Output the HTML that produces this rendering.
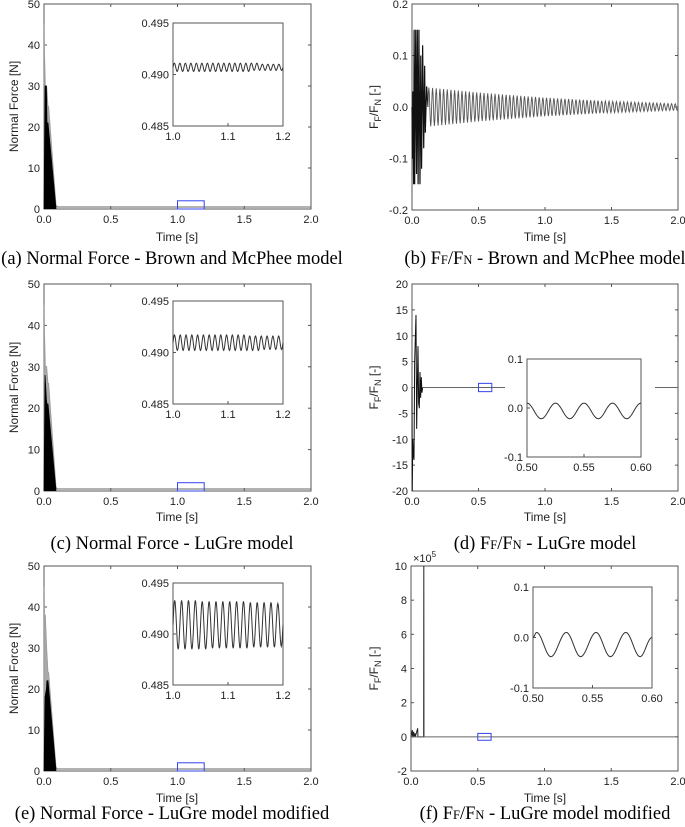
<!DOCTYPE html>
<html><head><meta charset="utf-8"><style>
html,body{margin:0;padding:0;background:#fff;}
svg{display:block;}
text{font-family:"Liberation Sans",sans-serif;fill:#222;}
.cap{font-family:"Liberation Serif",serif;font-size:18.5px;fill:#000;}
</style></head><body>
<svg id="fig" width="685" height="827" viewBox="0 0 685 827" xmlns="http://www.w3.org/2000/svg"></svg>
<script>
// ---------- data ----------
const nfOuterT = [0, 0.002, 0.004, 0.01, 0.02, 0.03, 0.035, 0.09, 0.1];
const nfOuterV_a = [0, 45, 38, 30, 30, 25, 25, 1, 0.5];
const nfInnerT = [0, 0.008, 0.018, 0.022, 0.03, 0.09];
const nfInnerV_a = [0, 30, 30, 21, 21, 0];
const nfOuterV_c = [0, 45, 38, 30, 30, 26, 26, 1, 0.5];
const nfInnerV_c = [0, 28, 22, 21, 21, 0];
const nfOuterV_e = [0, 45, 38, 38, 30, 24, 24, 1, 0.5];
const nfInnerV_e = [0, 18, 20, 22, 22, 0];
const nfSteady = 0.49;
const insetA_max = [0.4911,0.4911,0.4911,0.4911,0.4911,0.4911,0.4911,0.4911,0.4911,0.4911,0.4911,0.4911,0.4911,0.4911,0.4911,0.4911,0.4910,0.4910,0.4910,0.4910];
const insetA_min = [0.4903,0.4903,0.4903,0.4903,0.4903,0.4903,0.4903,0.4903,0.4903,0.4903,0.4903,0.4903,0.4903,0.4903,0.4904,0.4904,0.4904,0.4904,0.4904,0.4904];
const insetC_max = [0.4917,0.4917,0.4917,0.4917,0.4917,0.4917,0.4917,0.4917,0.4917,0.4917,0.4917,0.4917,0.4917,0.4916,0.4916,0.4916,0.4916,0.4916,0.4916];
const insetC_min = [0.4902,0.4902,0.4902,0.4902,0.4902,0.4902,0.4902,0.4902,0.4902,0.4902,0.4902,0.4902,0.4902,0.4902,0.4902,0.4903,0.4903,0.4903,0.4903];
const insetE_max = [0.4933,0.4933,0.4933,0.4933,0.4932,0.4932,0.4932,0.4932,0.4932,0.4932,0.4932,0.4931,0.4931,0.4931,0.4931,0.4930];
const insetE_min = [0.4885,0.4885,0.4885,0.4885,0.4885,0.4886,0.4886,0.4886,0.4886,0.4886,0.4886,0.4887,0.4887,0.4887,0.4887,0.4888];
const bEarlyT = [0,0.004,0.006,0.012,0.016,0.02,0.028,0.034,0.04,0.046,0.052,0.06,0.066,0.072,0.08,0.088,0.095,0.1,0.11,0.12];
const bEarlyV = [0,-0.1,0.03,-0.15,0.15,-0.15,0.15,-0.13,0.15,-0.15,0.15,-0.15,0.1,-0.12,0.12,-0.08,0.08,-0.05,0.04,0];
const bEnvT = [0.12,0.5,1.0,1.5,2.0];
const bEnvA = [0.038,0.028,0.018,0.011,0.006];
const bCycles = 68;
const dSpikeT = [0,0.002,0.006,0.01,0.015,0.02,0.03,0.035,0.045,0.05,0.055,0.06,0.065,0.07,0.075,0.08];
const dSpikeV = [0,-20,-10,-13,-14,5,14,-8,8,-3,-4,3,-2,2,-1,0];
const dInsetT = [0.50,0.5125,0.525,0.5375,0.55,0.5625,0.575,0.5875,0.60];
const dInsetV = [0.010,-0.022,0.010,-0.022,0.010,-0.022,0.010,-0.022,0.010];
const fSpikeT = [0,0.01,0.012,0.02,0.022,0.03,0.032,0.05,0.052,0.095,0.096,0.097];
const fSpikeV = [0,0.4,0,0.3,0,0.2,0,0.5,0,0,10.5,0];
const fInsetT = [0.50,0.503,0.515,0.528,0.540,0.553,0.565,0.578,0.590,0.60];
const fInsetV = [0.0,0.010,-0.038,0.010,-0.038,0.010,-0.038,0.010,-0.038,0.0];

// ---------- helpers ----------
const NS='http://www.w3.org/2000/svg';
const svg=document.getElementById('fig');
function el(tag,attrs,parent){const e=document.createElementNS(NS,tag);for(const k in attrs)e.setAttribute(k,attrs[k]);(parent||svg).appendChild(e);return e;}
function txt(s,x,y,size,anchor,parent){const t=el('text',{x:x,y:y,'font-size':size,'text-anchor':anchor||'middle'},parent);t.textContent=s;return t;}
function scale(d0,d1,p0,p1){return v=>p0+(v-d0)/(d1-d0)*(p1-p0);}
function frame(g,X0,X1,Y0,Y1,xt,yt,sx,sy,xlab,ylab,fs,tl,right){
  const r=el('rect',{x:X0,y:Y0,width:X1-X0,height:Y1-Y0,fill:'none',stroke:'#555','stroke-width':1},g);
  
  
  xt.forEach((v,i)=>{const x=sx(v);
    el('line',{x1:x,y1:Y1,x2:x,y2:Y1-tl,stroke:'#555'},g);
    if(right)el('line',{x1:x,y1:Y0,x2:x,y2:Y0+tl,stroke:'#555'},g);
    const t=txt(xlab[i],x,Y1+14,fs,'middle',g);
    
    });
  yt.forEach((v,i)=>{const y=sy(v);
    el('line',{x1:X0,y1:y,x2:X0+tl,y2:y,stroke:'#555'},g);
    if(right)el('line',{x1:X1,y1:y,x2:X1-tl,y2:y,stroke:'#555'},g);
    const t=txt(ylab[i],X0-4,y+4,fs,'end',g);
    
    });
}
function poly(g,T,V,sx,sy,attrs){return el('polyline',Object.assign({points:T.map((t,i)=>sx(t)+','+sy(V[i])).join(' '),fill:'none'},attrs),g);}
function oscPts(t0,t1,maxs,mins,sx,sy,phase){
  const n=maxs.length,pts=[],N=n*16;
  for(let k=0;k<=N;k++){const u=k/N,c=Math.min(n-1,Math.floor(u*n));
    const ph=u*n*2*Math.PI+(phase||0);const mid=(maxs[c]+mins[c])/2,amp=(maxs[c]-mins[c])/2;
    pts.push(sx(t0+u*(t1-t0))+','+sy(mid+amp*Math.cos(ph)));}
  return pts.join(' ');
}
function smoothPts(T,V,sx,sy){
  const pts=[];for(let i=0;i<T.length-1;i++){for(let k=0;k<12;k++){const u=k/12,w=(1-Math.cos(Math.PI*u))/2;
    pts.push(sx(T[i]+u*(T[i+1]-T[i]))+','+sy(V[i]+w*(V[i+1]-V[i])));}}
  pts.push(sx(T[T.length-1])+','+sy(V[V.length-1]));return pts.join(' ');
}
function yLabel(g,x,y,parts){const t=el('text',{transform:`translate(${x},${y}) rotate(-90)`,'font-size':12,'text-anchor':'middle'},g);
  parts.forEach(p=>{const s=el('tspan',p.sub?{'font-size':9,dy:3}:{dy:p.up?-3:0},t);s.textContent=p.s;});
  return t;}
function caption(g,x,y,parts){const t=el('text',{x:x,y:y,'text-anchor':'middle',class:'cap'},g);
  parts.forEach(p=>{const s=el('tspan',p.sub?{'font-size':12.5}:{},t);s.textContent=p.s;});
  return t;}
const xTicks=[0,0.5,1,1.5,2],xLab=['0.0','0.5','1.0','1.5','2.0'];

function nfPanel(name,Y0,Y1,outerV,innerV,imax,imin,IY0,IY1,capText,capY,tY){
  const g=el('g',{});
  const X0=44,X1=311,sx=scale(0,2,X0,X1),sy=scale(0,50,Y1,Y0);
  frame(g,X0,X1,Y0,Y1,xTicks,[0,10,20,30,40,50],sx,sy,xLab,['0','10','20','30','40','50'],11,3,true);
  const o=poly(g,nfOuterT,outerV,sx,sy,{fill:'#aaa',stroke:'#999','stroke-width':0.8});
  
  const inn=poly(g,nfInnerT,innerV,sx,sy,{fill:'#000',stroke:'#000','stroke-width':0.8});
  
  const sl=el('line',{x1:sx(0.09),y1:sy(nfSteady),x2:sx(2),y2:sy(nfSteady),stroke:'#666','stroke-width':1},g);
  
  const br=el('rect',{x:sx(1),y:sy(2),width:sx(1.2)-sx(1),height:sy(0)-sy(2),fill:'none',stroke:'#3344ee','stroke-width':1},g);
  
  const ix=scale(1,1.2,173,283),iy=scale(0.485,0.495,IY1,IY0);
  const ig=el('g',{},g);
  frame(ig,173,283,IY0,IY1,[1,1.1,1.2],[0.485,0.49,0.495],ix,iy,['1.0','1.1','1.2'],['0.485','0.490','0.495'],11,3,false);
  const ip=el('polyline',{points:oscPts(1,1.2,imax,imin,ix,iy,-Math.PI/2),fill:'none',stroke:'#333','stroke-width':1},ig);
  
  yLabel(g,18,(Y0+Y1)/2,[{s:'Normal Force [N]'}]);
  const xl=txt('Time [s]',177,tY,12,'middle',g);
  caption(g,172,capY,[{s:capText}]);
}
nfPanel('panel-a',4,209,nfOuterV_a,nfInnerV_a,insetA_max,insetA_min,23,126,'(a) Normal Force - Brown and McPhee model',264,241);
nfPanel('panel-c',284,491,nfOuterV_c,nfInnerV_c,insetC_max,insetC_min,301,404,'(c) Normal Force - LuGre model',549,521);
nfPanel('panel-e',566,771,nfOuterV_e,nfInnerV_e,insetE_max,insetE_min,583,685,'(e) Normal Force - LuGre model modified',819,802);

const ffLab=[{s:'F'},{s:'F',sub:1},{s:'/F',up:1},{s:'N',sub:1},{s:' [-]',up:1}];
(function(){
  const g=el('g',{});
  const X0=412,X1=678,Y0=4,Y1=210,sx=scale(0,2,X0,X1),sy=scale(-0.2,0.2,Y1,Y0);
  frame(g,X0,X1,Y0,Y1,xTicks,[-0.2,-0.1,0,0.1,0.2],sx,sy,xLab,['-0.2','-0.1','0.0','0.1','0.2'],11,3,true);
  const e=poly(g,bEarlyT,bEarlyV,sx,sy,{stroke:'#111','stroke-width':1.2});
  
  const pts=[],t0=bEnvT[0],t1=2,N=bCycles*8;
  for(let k=0;k<=N;k++){const t=t0+(t1-t0)*k/N;let j=0;while(j<bEnvT.length-2&&t>bEnvT[j+1])j++;
    const a=bEnvA[j]+(bEnvA[j+1]-bEnvA[j])*(t-bEnvT[j])/(bEnvT[j+1]-bEnvT[j]);
    pts.push(sx(t)+','+sy(a*Math.sin(k/8*2*Math.PI)));}
  const l=el('polyline',{points:pts.join(' '),fill:'none',stroke:'#555','stroke-width':0.9},g);
  
  yLabel(g,378,(Y0+Y1)/2,ffLab);
  const xl=txt('Time [s]',545,241,12,'middle',g);
  caption(g,545,264,[{s:'(b) F'},{s:'F',sub:1},{s:'/F'},{s:'N',sub:1},{s:' - Brown and McPhee model'}]);
})();
(function(){
  const g=el('g',{});
  const X0=412,X1=678,Y0=284,Y1=491,sx=scale(0,2,X0,X1),sy=scale(-20,20,Y1,Y0);
  frame(g,X0,X1,Y0,Y1,xTicks,[-20,-15,-10,-5,0,5,10,15,20],sx,sy,xLab,['-20','-15','-10','-5','0','5','10','15','20'],11,3,true);
  const s=poly(g,dSpikeT,dSpikeV,sx,sy,{stroke:'#111','stroke-width':1});
  
  const z=el('line',{x1:sx(0.08),y1:sy(0),x2:sx(2),y2:sy(0),stroke:'#666'},g);
  
  const br=el('rect',{x:sx(0.5),y:sy(0.8),width:sx(0.6)-sx(0.5),height:sy(-0.8)-sy(0.8),fill:'none',stroke:'#3344ee'},g);
  
  const ig=el('g',{},g);
  el('rect',{x:505,y:350,width:150,height:122,fill:'#fff'},ig);
  const ix=scale(0.5,0.6,527,641),iy=scale(-0.1,0.1,457,359);
  frame(ig,527,641,359,457,[0.5,0.55,0.6],[-0.1,0,0.1],ix,iy,['0.50','0.55','0.60'],['-0.1','0.0','0.1'],11,3,false);
  const ip=el('polyline',{points:smoothPts(dInsetT,dInsetV,ix,iy),fill:'none',stroke:'#333','stroke-width':1},ig);
  
  yLabel(g,378,(Y0+Y1)/2,ffLab);
  const xl=txt('Time [s]',545,521,12,'middle',g);
  caption(g,545,549,[{s:'(d) F'},{s:'F',sub:1},{s:'/F'},{s:'N',sub:1},{s:' - LuGre model'}]);
})();
(function(){
  const g=el('g',{});
  const X0=411,X1=678,Y0=566,Y1=771,sx=scale(0,2,X0,X1),sy=scale(-2,10,Y1,Y0);
  frame(g,X0,X1,Y0,Y1,xTicks,[-2,0,2,4,6,8,10],sx,sy,xLab,['-2','0','2','4','6','8','10'],11,3,true);
  const s=el('polyline',{points:fSpikeT.map((t,i)=>sx(t)+','+Math.max(Y0,sy(fSpikeV[i]))).join(' '),fill:'none',stroke:'#222','stroke-width':1},g);
  
  const z=el('line',{x1:X0,y1:sy(0),x2:X1,y2:sy(0),stroke:'#666'},g);
  
  const br=el('rect',{x:sx(0.5),y:sy(0.2),width:sx(0.6)-sx(0.5),height:sy(-0.2)-sy(0.2),fill:'none',stroke:'#3344ee'},g);
  
  const ex=el('text',{x:413,y:562,'font-size':11},g);ex.textContent='×10';
  const sp=el('tspan',{'font-size':8,dy:-5},ex);sp.textContent='5';
  
  const ig=el('g',{},g);
  const ix=scale(0.5,0.6,533,652),iy=scale(-0.1,0.1,688,587);
  frame(ig,533,652,587,688,[0.5,0.55,0.6],[-0.1,0,0.1],ix,iy,['0.50','0.55','0.60'],['-0.1','0.0','0.1'],11,3,false);
  const ip=el('polyline',{points:smoothPts(fInsetT,fInsetV,ix,iy),fill:'none',stroke:'#333','stroke-width':1},ig);
  
  yLabel(g,378,(Y0+Y1)/2,ffLab);
  const xl=txt('Time [s]',545,802,12,'middle',g);
  caption(g,545,819,[{s:'(f) F'},{s:'F',sub:1},{s:'/F'},{s:'N',sub:1},{s:' - LuGre model modified'}]);
})();
</script>
</body></html>
